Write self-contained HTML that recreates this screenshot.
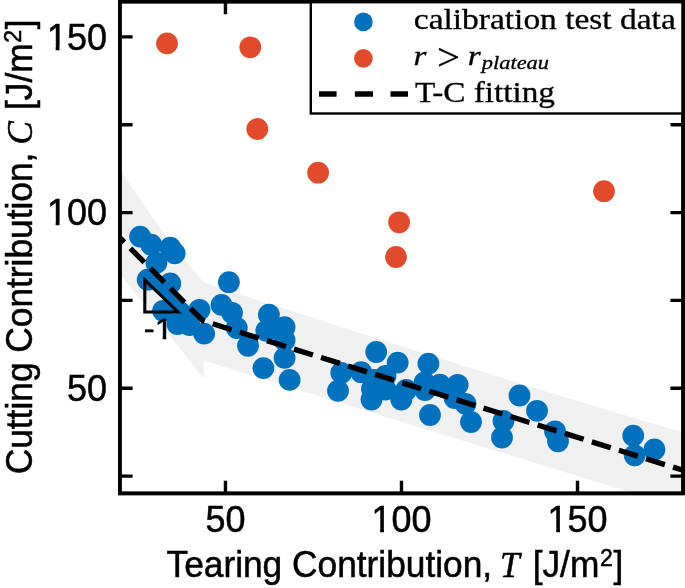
<!DOCTYPE html>
<html><head><meta charset="utf-8"><title>T-C fitting</title>
<style>html,body{margin:0;padding:0;background:#fff}svg{display:block}</style></head>
<body>
<svg width="685" height="588" viewBox="0 0 685 588">
<rect width="685" height="588" fill="#fff"/>
<defs><clipPath id="ax"><rect x="119.9" y="1.6" width="563.2" height="491.79999999999995"/></clipPath><clipPath id="c1"><path d="M-50.44,-34.44H129.56V-3.14H-50.44ZM16.48,-4.14H19.61V2.00H16.48ZM25.42,-4.14H129.56V6.00H25.42Z"/></clipPath><clipPath id="cx100"><path d="M-90.03,-43.20H89.97V-3.69H-90.03ZM-21.28,-4.69H-17.50V2.00H-21.28ZM-10.47,-4.69H89.97V6.00H-10.47Z"/></clipPath><clipPath id="cy100"><path d="M-120.07,-43.20H59.93V-3.69H-120.07ZM-51.32,-4.69H-47.54V2.00H-51.32ZM-40.51,-4.69H59.93V6.00H-40.51Z"/></clipPath><clipPath id="cx150"><path d="M-90.03,-43.20H89.97V-3.69H-90.03ZM-21.28,-4.69H-17.50V2.00H-21.28ZM-10.47,-4.69H89.97V6.00H-10.47Z"/></clipPath><clipPath id="cy150"><path d="M-120.07,-43.20H59.93V-3.69H-120.07ZM-51.32,-4.69H-47.54V2.00H-51.32ZM-40.51,-4.69H59.93V6.00H-40.51Z"/></clipPath></defs>
<g clip-path="url(#ax)">
<path d="M117.9,165.66 Q160.85,233.77 203.7,282.2 Q443.5,362.09 683.3,432.4 L690,434.4 L690,510.7 L203.7,360.7 L203.7,378.4 Q170,336 117.9,272 Z" fill="#f0f0f0"/>
<circle cx="140.1" cy="236.6" r="10.9" fill="#0072BD"/>
<circle cx="151.3" cy="244.7" r="10.9" fill="#0072BD"/>
<circle cx="170.3" cy="247.6" r="10.9" fill="#0072BD"/>
<circle cx="174.7" cy="253.4" r="10.9" fill="#0072BD"/>
<circle cx="156.4" cy="262.9" r="10.9" fill="#0072BD"/>
<circle cx="147.7" cy="279.7" r="10.9" fill="#0072BD"/>
<circle cx="170.3" cy="283.4" r="10.9" fill="#0072BD"/>
<circle cx="228.9" cy="282.2" r="10.9" fill="#0072BD"/>
<circle cx="163.1" cy="310.8" r="10.9" fill="#0072BD"/>
<circle cx="177.4" cy="324" r="10.9" fill="#0072BD"/>
<circle cx="189.5" cy="325" r="10.9" fill="#0072BD"/>
<circle cx="199.5" cy="309.8" r="10.9" fill="#0072BD"/>
<circle cx="204.1" cy="333.6" r="10.9" fill="#0072BD"/>
<circle cx="221.5" cy="304.9" r="10.9" fill="#0072BD"/>
<circle cx="232" cy="312.8" r="10.9" fill="#0072BD"/>
<circle cx="236.8" cy="328" r="10.9" fill="#0072BD"/>
<circle cx="248" cy="345.8" r="10.9" fill="#0072BD"/>
<circle cx="268.9" cy="314.7" r="10.9" fill="#0072BD"/>
<circle cx="284.6" cy="327.2" r="10.9" fill="#0072BD"/>
<circle cx="266.3" cy="330.8" r="10.9" fill="#0072BD"/>
<circle cx="284.6" cy="340.3" r="10.9" fill="#0072BD"/>
<circle cx="284.6" cy="357.9" r="10.9" fill="#0072BD"/>
<circle cx="263.4" cy="368.1" r="10.9" fill="#0072BD"/>
<circle cx="289.6" cy="379.9" r="10.9" fill="#0072BD"/>
<circle cx="341.3" cy="372.8" r="10.9" fill="#0072BD"/>
<circle cx="338" cy="390.8" r="10.9" fill="#0072BD"/>
<circle cx="376.2" cy="352" r="10.9" fill="#0072BD"/>
<circle cx="397.7" cy="362.6" r="10.9" fill="#0072BD"/>
<circle cx="361.2" cy="372.2" r="10.9" fill="#0072BD"/>
<circle cx="373.8" cy="380" r="10.9" fill="#0072BD"/>
<circle cx="385.5" cy="376" r="10.9" fill="#0072BD"/>
<circle cx="371.5" cy="399.5" r="10.9" fill="#0072BD"/>
<circle cx="372" cy="389" r="10.9" fill="#0072BD"/>
<circle cx="385.5" cy="389.5" r="10.9" fill="#0072BD"/>
<circle cx="401.3" cy="399.5" r="10.9" fill="#0072BD"/>
<circle cx="406.2" cy="390" r="10.9" fill="#0072BD"/>
<circle cx="428.4" cy="363.6" r="10.9" fill="#0072BD"/>
<circle cx="424.5" cy="382.5" r="10.9" fill="#0072BD"/>
<circle cx="425" cy="390" r="10.9" fill="#0072BD"/>
<circle cx="440" cy="384.6" r="10.9" fill="#0072BD"/>
<circle cx="457.6" cy="384.8" r="10.9" fill="#0072BD"/>
<circle cx="430" cy="415" r="10.9" fill="#0072BD"/>
<circle cx="454.6" cy="398" r="10.9" fill="#0072BD"/>
<circle cx="465.5" cy="403.8" r="10.9" fill="#0072BD"/>
<circle cx="471" cy="422" r="10.9" fill="#0072BD"/>
<circle cx="503.5" cy="421" r="10.9" fill="#0072BD"/>
<circle cx="502" cy="437.5" r="10.9" fill="#0072BD"/>
<circle cx="519.5" cy="395.5" r="10.9" fill="#0072BD"/>
<circle cx="537" cy="410.8" r="10.9" fill="#0072BD"/>
<circle cx="555" cy="431.3" r="10.9" fill="#0072BD"/>
<circle cx="558" cy="441.3" r="10.9" fill="#0072BD"/>
<circle cx="633.2" cy="435.6" r="10.9" fill="#0072BD"/>
<circle cx="634.7" cy="455.3" r="10.9" fill="#0072BD"/>
<circle cx="654.4" cy="449.5" r="10.9" fill="#0072BD"/>
<circle cx="167" cy="43.4" r="10.9" fill="#E24A2C"/>
<circle cx="250.3" cy="47.3" r="10.9" fill="#E24A2C"/>
<circle cx="257.3" cy="129" r="10.9" fill="#E24A2C"/>
<circle cx="318.1" cy="172.7" r="10.9" fill="#E24A2C"/>
<circle cx="399.1" cy="222.3" r="10.9" fill="#E24A2C"/>
<circle cx="396" cy="257" r="10.9" fill="#E24A2C"/>
<circle cx="604" cy="191.2" r="10.9" fill="#E24A2C"/>
<path d="M151,277.4 L191.5,317.9" stroke="#0072BD" stroke-width="13.5" fill="none"/>
<path d="M202.6,320.65 L685.1,470.90049999999997" fill="none" stroke="#000" stroke-width="5.35" stroke-dasharray="19.8 8.56" stroke-dashoffset="17.75"/>
<path d="M119.9,237.85 L203.5,321.45000000000005" fill="none" stroke="#000" stroke-width="5.35" stroke-dasharray="19.8 8.56" stroke-dashoffset="13.58"/>
<path d="M144.8,279.9 L144.8,312 L177.9,312 Z" fill="none" stroke="#000" stroke-width="3.1" stroke-linejoin="miter" stroke-miterlimit="10"/>
</g>
<text transform="translate(143.7,338.7) scale(1.15,1.04)" font-family="'Liberation Sans',sans-serif" font-size="28.7" stroke="#000" stroke-width="0.4" clip-path="url(#c1)">-1</text>
<path d="M119.9,476.10h12.7M683.1,476.10h-12.7M119.9,388.26h12.7M683.1,388.26h-12.7M119.9,300.42h12.7M683.1,300.42h-12.7M119.9,212.58h12.7M683.1,212.58h-12.7M119.9,124.74h12.7M683.1,124.74h-12.7M119.9,36.90h12.7M683.1,36.90h-12.7M225.45,493.4v-12.7M225.45,1.6v12.7M401.48,493.4v-12.7M401.48,1.6v12.7M577.50,493.4v-12.7M577.50,1.6v12.7" stroke="#000" stroke-width="3.4" fill="none"/>
<rect x="119.9" y="1.6" width="563.2" height="491.79999999999995" fill="none" stroke="#000" stroke-width="3.6"/>
<text transform="translate(225.45,532) scale(1,1.04)" text-anchor="middle" font-family="'Liberation Sans',sans-serif" stroke="#000" stroke-width="0.5" font-size="36" >50</text>
<text transform="translate(107,401.16) scale(1,1.04)" text-anchor="end" font-family="'Liberation Sans',sans-serif" stroke="#000" stroke-width="0.5" font-size="36" >50</text>
<text transform="translate(401.48,532) scale(1,1.04)" text-anchor="middle" font-family="'Liberation Sans',sans-serif" stroke="#000" stroke-width="0.5" font-size="36" clip-path="url(#cx100)">100</text>
<text transform="translate(107,225.48) scale(1,1.04)" text-anchor="end" font-family="'Liberation Sans',sans-serif" stroke="#000" stroke-width="0.5" font-size="36" clip-path="url(#cy100)">100</text>
<text transform="translate(577.50,532) scale(1,1.04)" text-anchor="middle" font-family="'Liberation Sans',sans-serif" stroke="#000" stroke-width="0.5" font-size="36" clip-path="url(#cx150)">150</text>
<text transform="translate(107,49.80) scale(1,1.04)" text-anchor="end" font-family="'Liberation Sans',sans-serif" stroke="#000" stroke-width="0.5" font-size="36" clip-path="url(#cy150)">150</text>
<text transform="translate(166.5,576.8) scale(1,1.04)" font-family="'Liberation Sans',sans-serif" stroke="#000" stroke-width="0.5" font-size="35.3"><tspan x="0">Tearing Contribution, </tspan><tspan font-family="'Liberation Serif',serif" font-style="italic" font-size="35.3" dx="-2">T</tspan><tspan dx="3.3"> [J/m</tspan><tspan font-size="23" dy="-10.3" dx="0.6">2</tspan><tspan dy="10.3" dx="0.8">]</tspan></text>
<text transform="translate(31.6,474.3) rotate(-90) scale(1,1.04)" font-family="'Liberation Sans',sans-serif" stroke="#000" stroke-width="0.5" font-size="35.3"><tspan x="0">Cutting Contribution, </tspan><tspan font-family="'Liberation Serif',serif" font-style="italic" font-size="35.3" dx="-2">C</tspan><tspan dx="1.5"> [J/m</tspan><tspan font-size="23" dy="-10.3" dx="0.6">2</tspan><tspan dy="10.3" dx="0.8">]</tspan></text>
<rect x="310.8" y="-3" width="372.3" height="116.5" fill="#fff" stroke="#000" stroke-width="2.4"/>
<rect x="119.9" y="1.6" width="563.2" height="491.79999999999995" fill="none" stroke="#000" stroke-width="3.6"/>
<circle cx="363.4" cy="21.9" r="9.3" fill="#0072BD"/>
<circle cx="363.4" cy="58.4" r="9.3" fill="#E24A2C"/>
<path d="M319,94h17.6M354.9,94h18.1M390.5,94h17.5" stroke="#000" stroke-width="5.4" fill="none"/>
<text transform="translate(413.8,29) scale(1.1544,1)" font-family="'Liberation Serif',serif" font-size="29" stroke="#000" stroke-width="0.3">calibration test data</text>
<text transform="translate(413.5,65.3) scale(1.207,1)" font-family="'Liberation Serif',serif" font-size="27.5" font-style="italic" stroke="#000" stroke-width="0.3">r</text>
<text transform="translate(434.5,69.5) scale(1.07,1)" font-family="'Liberation Serif',serif" font-size="38" font-style="italic" stroke="#000" stroke-width="0.3">&gt;</text>
<text transform="translate(467.8,65.3) scale(1.207,1)" font-family="'Liberation Serif',serif" font-size="27.5" font-style="italic" stroke="#000" stroke-width="0.3">r</text>
<text transform="translate(481.8,68.7) scale(1.211,1)" font-family="'Liberation Serif',serif" font-size="18.5" font-style="italic" stroke="#000" stroke-width="0.3">plateau</text>
<text transform="translate(414.9,101.6) scale(1.147,1)" font-family="'Liberation Serif',serif" font-size="29" stroke="#000" stroke-width="0.3">T-C fitting</text>
</svg>
</body></html>
